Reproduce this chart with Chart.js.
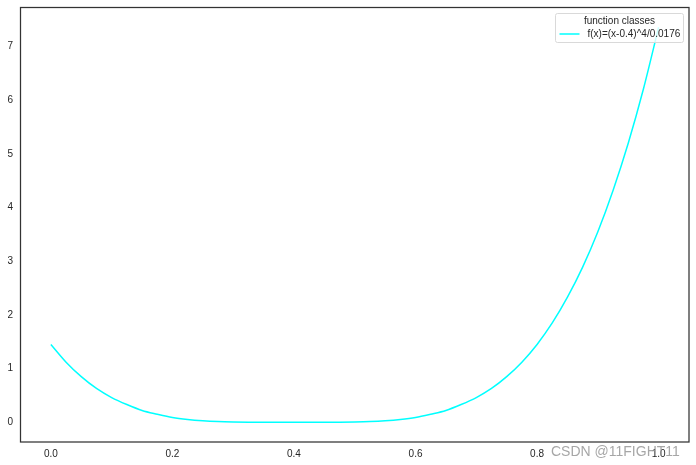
<!DOCTYPE html>
<html>
<head>
<meta charset="utf-8">
<script src="https://cdn.jsdelivr.net/npm/chart.js@4"></script>
<style>
  html, body { margin: 0; padding: 0; background: #fff; }
  #wrap { width: 696px; height: 465px; }
</style>
</head>
<body>
<div id="wrap"><canvas id="c" width="696" height="465"></canvas></div>
<script>
// values
const xValues = [0, 0.025, 0.05, 0.075, 0.1, 0.125, 0.15, 0.175, 0.2, 0.225, 0.25,
                 0.275, 0.3, 0.325, 0.35, 0.375, 0.4, 0.425, 0.45, 0.475, 0.5,
                 0.525, 0.55, 0.575, 0.6, 0.625, 0.65, 0.675, 0.7, 0.725, 0.75,
                 0.775, 0.8, 0.825, 0.85, 0.875, 0.9, 0.925, 0.95, 0.975, 1.0];
const yValues = [1.45, 1.12, 0.85, 0.63, 0.46, 0.33, 0.22, 0.15, 0.09, 0.053, 0.029,
                 0.014, 0.006, 0.002, 0.0004, 0.0001, 0, 0.0001, 0.0004, 0.002, 0.006,
                 0.014, 0.029, 0.053, 0.09, 0.15, 0.22, 0.33, 0.46, 0.63, 0.85,
                 1.12, 1.45, 1.85, 2.33, 2.89, 3.55, 4.32, 5.2, 6.21, 7.36];
const xTicks = [0, 0.2, 0.4, 0.6, 0.8, 1.0];
const yTicks = [0, 1, 2, 3, 4, 5, 6, 7];
const seriesLabel = 'f(x)=(x-0.4)^4/0.0176';
const legendTitle = 'function classes';

const FONT = '"Liberation Sans", Arial, sans-serif';

const frame = {
    id: 'frame',
    afterDraw(chart) {
        const { ctx, chartArea: a } = chart;
        ctx.save();
        ctx.strokeStyle = '#333';
        ctx.lineWidth = 1.25;
        ctx.strokeRect(a.left, a.top, a.right - a.left, a.bottom - a.top);

        // legend box
        const bx = 555.5, by = 13.5, bw = 128, bh = 29;
        ctx.fillStyle = 'rgba(255,255,255,0.8)';
        ctx.strokeStyle = '#d9d9d9';
        ctx.lineWidth = 1;
        ctx.beginPath();
        ctx.roundRect(bx, by, bw, bh, 2);
        ctx.fill();
        ctx.stroke();
        ctx.fillStyle = '#262626';
        ctx.font = '10px ' + FONT;
        ctx.textAlign = 'center';
        ctx.textBaseline = 'middle';
        ctx.fillText(legendTitle, bx + bw / 2, by + 7.5);
        ctx.strokeStyle = '#00ffff';
        ctx.lineWidth = 1.5;
        ctx.beginPath();
        ctx.moveTo(bx + 4, by + 20.5);
        ctx.lineTo(bx + 24, by + 20.5);
        ctx.stroke();
        ctx.textAlign = 'left';
        ctx.fillText(seriesLabel, bx + 32, by + 20.5);

        // watermark
        ctx.fillStyle = 'rgba(150,150,150,0.85)';
        ctx.font = '14px ' + FONT;
        ctx.textAlign = 'left';
        ctx.textBaseline = 'alphabetic';
        ctx.fillText('CSDN @11FIGHT11', 551, 456);
        ctx.restore();
    }
};

new Chart(document.getElementById('c'), {
    type: 'scatter',
    data: {
        datasets: [{
            label: seriesLabel,
            data: xValues.map((x, i) => ({ x: x, y: yValues[i] })),
            showLine: true,
            borderColor: '#00ffff',
            borderWidth: 1.5,
            pointRadius: 0,
            cubicInterpolationMode: 'monotone',
            fill: false
        }]
    },
    options: {
        responsive: false,
        animation: false,
        layout: { padding: { top: 7.5, right: 7, left: 0, bottom: 0 } },
        plugins: { legend: { display: false }, tooltip: { enabled: false } },
        scales: {
            x: {
                type: 'linear',
                min: -0.05,
                max: 1.05,
                afterBuildTicks: s => { s.ticks = xTicks.map(v => ({ value: v })); },
                afterFit: s => { s.height = 23; s.paddingLeft = 0; s.paddingRight = 0; },
                grid: { display: false, drawTicks: false },
                border: { display: false },
                ticks: {
                    color: '#262626',
                    font: { size: 10, family: FONT },
                    padding: 6,
                    maxRotation: 0,
                    callback: v => v.toFixed(1)
                }
            },
            y: {
                min: -0.368,
                max: 7.728,
                afterBuildTicks: s => { s.ticks = yTicks.map(v => ({ value: v })); },
                afterFit: s => { s.width = 20.5; s.paddingTop = 0; s.paddingBottom = 0; },
                grid: { display: false, drawTicks: false },
                border: { display: false },
                ticks: {
                    color: '#262626',
                    font: { size: 10, family: FONT },
                    padding: 7.5,
                    callback: v => String(v)
                }
            }
        }
    },
    plugins: [frame]
});
</script>
</body>
</html>
